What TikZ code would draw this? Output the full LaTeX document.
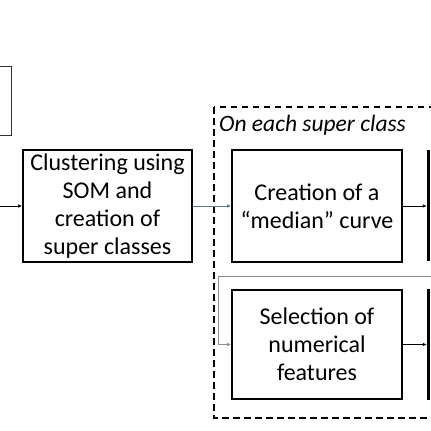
\documentclass[tikz,border=0pt]{standalone}
\usepackage{fontspec}
\setmainfont{Carlito}
\usetikzlibrary{arrows.meta}
\definecolor{flwInk}{HTML}{000000}
\definecolor{flwSlate}{HTML}{5A7590}
\definecolor{flwGray}{HTML}{8C8C8C}
\definecolor{flwDim}{HTML}{333333}
\tikzset{
  flw box/.style={draw=flwInk, line width=1.6pt, rectangle, align=center,
    font=\fontsize{24}{28}\selectfont, inner sep=0pt},
  flw faint box/.style={draw=flwDim, line width=1pt, rectangle, inner sep=0pt},
  flw bar/.style={fill=flwInk, rectangle, inner sep=0pt, minimum width=3pt},
  flw arrow/.style={draw=flwInk, line width=0.8pt, -{Latex[length=4pt,width=3.5pt]}},
  flw frame/.style={draw=flwInk, line width=2pt, dash pattern=on 6.5pt off 4.5pt},
  flw label/.style={font=\fontsize{23.5}{28}\selectfont\itshape, anchor=west, inner sep=0pt},
}
\begin{document}
\begin{tikzpicture}[x=1pt, y=-1pt]
  \useasboundingbox (0,0) rectangle (431,431);

  % Previous step, cut by the border
  \node[flw faint box, minimum width=60pt, minimum height=69pt] (prev) at (-18.5,101) {};

  % Dashed group for each super class
  \draw[flw frame] (214,107) rectangle (470,418);
  \node[flw label] (grouplabel) at (219,125) {On each super class};

  % Main steps
  \node[flw box, minimum width=169pt, minimum height=112pt] (clust) at (107.5,206)
    {Clustering using\\SOM and\\creation of\\super classes};
  \node[flw box, minimum width=170pt, minimum height=112pt] (median) at (317,206)
    {Creation of a\\“median” curve};
  \node[flw box, minimum width=170pt, minimum height=109pt] (select) at (317,344.5)
    {Selection of\\numerical\\features};

  % Bars on the right
  \node[flw bar, minimum height=111pt] (barA) at (428.5,205) {};
  \node[flw bar, minimum height=111pt] (barB) at (428.5,344.5) {};

  % Connectors
  \coordinate (inlet) at (0,206);
  \coordinate (loop) at (440,276);
  \draw[flw arrow] (inlet) -- (clust.west |- inlet);
  \draw[flw arrow, draw=flwSlate] (clust.east |- median) -- (median.west);
  \draw[flw arrow] (median.east) -- (barA.west |- median);
  \draw[flw arrow] (select.east) -- (barB.west |- select);
  \draw[flw arrow, draw=flwGray] (loop) -- (218,276) |- (select.west);
\end{tikzpicture}
\end{document}
